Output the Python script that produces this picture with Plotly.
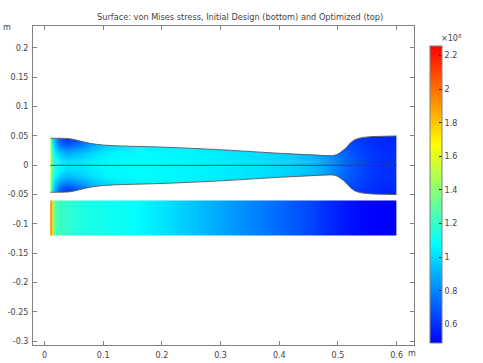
import plotly.graph_objects as go

# stress values in units of 1e8; geometry in metres
profile_x = [0.01, 0.02, 0.04, 0.05, 0.06, 0.07, 0.08, 0.1, 0.13, 0.2, 0.3, 0.4, 0.45, 0.48, 0.49,
             0.4975, 0.505, 0.514, 0.521, 0.529, 0.54, 0.56, 0.58, 0.6]
profile_half = [0.046, 0.046, 0.0455, 0.044, 0.0415, 0.039, 0.037, 0.0345, 0.033, 0.031, 0.0265, 0.0205,
                0.018, 0.0165, 0.0165, 0.018, 0.0225, 0.030, 0.038, 0.0437, 0.047, 0.049, 0.0495, 0.05]

top_x_edges = [0.01, 0.0115, 0.014, 0.02, 0.03, 0.05, 0.08, 0.12, 0.2, 0.3, 0.4, 0.46, 0.49, 0.52, 0.55, 0.6]
top_y_edges = [-0.05, -0.035, -0.025, -0.015, -0.005, 0.005, 0.015, 0.025, 0.035, 0.05]
stress_y0 = [1.50, 1.35, 1.16, 1.08, 1.02, 1.03, 1.06, 1.08, 1.06, 1.02, 0.97, 0.88, 0.76, 0.67, 0.60]
stress_y1 = [1.50, 1.32, 1.13, 1.05, 0.98, 1.01, 1.06, 1.08, 1.06, 1.02, 0.97, 0.88, 0.76, 0.67, 0.60]
stress_y2 = [1.48, 1.28, 1.08, 0.98, 0.90, 0.96, 1.05, 1.08, 1.06, 1.02, 0.95, 0.85, 0.74, 0.66, 0.60]
stress_y3 = [1.46, 1.22, 1.00, 0.85, 0.78, 0.86, 0.98, 1.06, 1.05, 0.98, 0.90, 0.80, 0.70, 0.65, 0.59]
stress_y4 = [1.42, 1.15, 0.92, 0.72, 0.62, 0.72, 0.95, 1.05, 1.00, 0.95, 0.85, 0.75, 0.66, 0.63, 0.58]

bottom_x_edges = [0.01, 0.0125, 0.0135, 0.015, 0.02, 0.05, 0.1, 0.18, 0.25, 0.32, 0.39, 0.456, 0.5, 0.54, 0.6]
bottom_y_edges = [-0.12, -0.09, -0.06]
bottom_stress = [2.0, 1.7, 1.45, 1.28, 1.2, 1.14, 1.1, 1.0, 0.9, 0.8, 0.7, 0.6, 0.53, 0.49]

x_ticks = [0, 0.1, 0.2, 0.3, 0.4, 0.5, 0.6]
x_labels = ["0", "0.1", "0.2", "0.3", "0.4", "0.5", "0.6"]
y_ticks = [0.2, 0.15, 0.1, 0.05, 0, -0.05, -0.1, -0.15, -0.2, -0.25, -0.3]
y_labels = ["0.2", "0.15", "0.1", "0.05", "0", "-0.05", "-0.1", "-0.15", "-0.2", "-0.25", "-0.3"]
cb_ticks = [0.6, 0.8, 1, 1.2, 1.4, 1.6, 1.8, 2, 2.2]
cb_labels = ["0.6", "0.8", "1", "1.2", "1.4", "1.6", "1.8", "2", "2.2"]

TITLE = "Surface: von Mises stress, Initial Design (bottom) and Optimized (top)"
W, H = 483, 363
L, R, T, B = 32.5, 414, 26, 345.5
FONT = "DejaVu Sans"
INK = "#444444"
FRAME = "#808080"

top_rows = [stress_y4, stress_y3, stress_y2, stress_y1, stress_y0, stress_y1, stress_y2, stress_y3, stress_y4]

fig = go.Figure()
fig.add_trace(go.Heatmap(x=top_x_edges, y=top_y_edges, z=top_rows, coloraxis="coloraxis",
                         zsmooth="best", hoverinfo="skip"))
fig.add_trace(go.Heatmap(x=bottom_x_edges, y=bottom_y_edges, z=[bottom_stress, bottom_stress],
                         coloraxis="coloraxis", zsmooth="best", hoverinfo="skip"))

# white masks trim the top field to the optimized outline
x0, x1 = profile_x[0], profile_x[-1]
cap = max(profile_half) + 0.006
fig.add_trace(go.Scatter(x=profile_x + [x1, x0], y=profile_half + [cap, cap], mode="lines",
                         fill="toself", fillcolor="white", line=dict(width=0), hoverinfo="skip"))
fig.add_trace(go.Scatter(x=profile_x + [x1, x0], y=[-v for v in profile_half] + [-cap, -cap], mode="lines",
                         fill="toself", fillcolor="white", line=dict(width=0), hoverinfo="skip"))
# outlines
fig.add_trace(go.Scatter(x=profile_x, y=profile_half, mode="lines",
                         line=dict(color="#5a5a5a", width=0.9, shape="spline"), hoverinfo="skip"))
fig.add_trace(go.Scatter(x=profile_x, y=[-v for v in profile_half], mode="lines",
                         line=dict(color="#5a5a5a", width=0.9, shape="spline"), hoverinfo="skip"))
fig.add_trace(go.Scatter(x=[x0, x1], y=[0, 0], mode="lines",
                         line=dict(color="#1f4a55", width=0.9), hoverinfo="skip"))

axis_common = dict(showgrid=False, zeroline=False, showline=True, linecolor=FRAME, linewidth=1,
                   mirror="allticks", ticks="inside", ticklen=4, tickwidth=1, tickcolor=FRAME,
                   tickfont=dict(family=FONT, size=8, color=INK), tickmode="array", automargin=False,
                   ticklabelstandoff=2)

fig.update_layout(
    width=W, height=H, autosize=False, showlegend=False,
    paper_bgcolor="white", plot_bgcolor="white",
    margin=dict(l=L, r=W - R, t=T, b=H - B, pad=0, autoexpand=False),
    xaxis=dict(range=[-0.0196, 0.6296], tickvals=x_ticks, ticktext=x_labels, **axis_common),
    yaxis=dict(range=[-0.3063, 0.2374], tickvals=y_ticks, ticktext=y_labels, **axis_common),
    coloraxis=dict(
        cmin=0.492, cmax=2.26,
        colorscale=[[0, "#0000ff"], [1 / 3, "#00ffff"], [2 / 3, "#ffff00"], [1, "#ff0000"]],
        colorbar=dict(
            thickness=12, thicknessmode="pixels", len=297, lenmode="pixels",
            x=(430 - L) / (R - L), xanchor="left",
            y=(B - 343) / (B - T), yanchor="bottom", xpad=0, ypad=0,
            outlinecolor=FRAME, outlinewidth=1,
            tickmode="array", tickvals=cb_ticks, ticktext=cb_labels,
            ticks="inside", ticklen=3, tickcolor="#222222", tickwidth=1,
            tickfont=dict(family=FONT, size=8, color=INK),
        ),
    ),
    annotations=[
        dict(text=TITLE, xref="paper", yref="paper", x=(239.5 - L) / (R - L), y=1 + (26 - 17) / (B - T),
             xanchor="center", yanchor="middle", showarrow=False, font=dict(family=FONT, size=8.2, color=INK)),
        dict(text="m", xref="paper", yref="paper", x=(6 - L) / (R - L), y=1 - 1.5 / (B - T), xanchor="center",
             yanchor="middle", showarrow=False, font=dict(family=FONT, size=8, color=INK)),
        dict(text="m", xref="paper", yref="paper", x=(412 - L) / (R - L), y=-(354 - B) / (B - T), xanchor="center",
             yanchor="middle", showarrow=False, font=dict(family=FONT, size=8, color=INK)),
        dict(text="×10<sup>8</sup>", xref="paper", yref="paper", x=(452 - L) / (R - L), y=1 - (38 - T) / (B - T),
             xanchor="center", yanchor="middle", showarrow=False, font=dict(family=FONT, size=8, color=INK)),
    ],
)

fig.write_html("out.html", config={"displayModeBar": False},
               post_script="document.body.style.margin='0';")
